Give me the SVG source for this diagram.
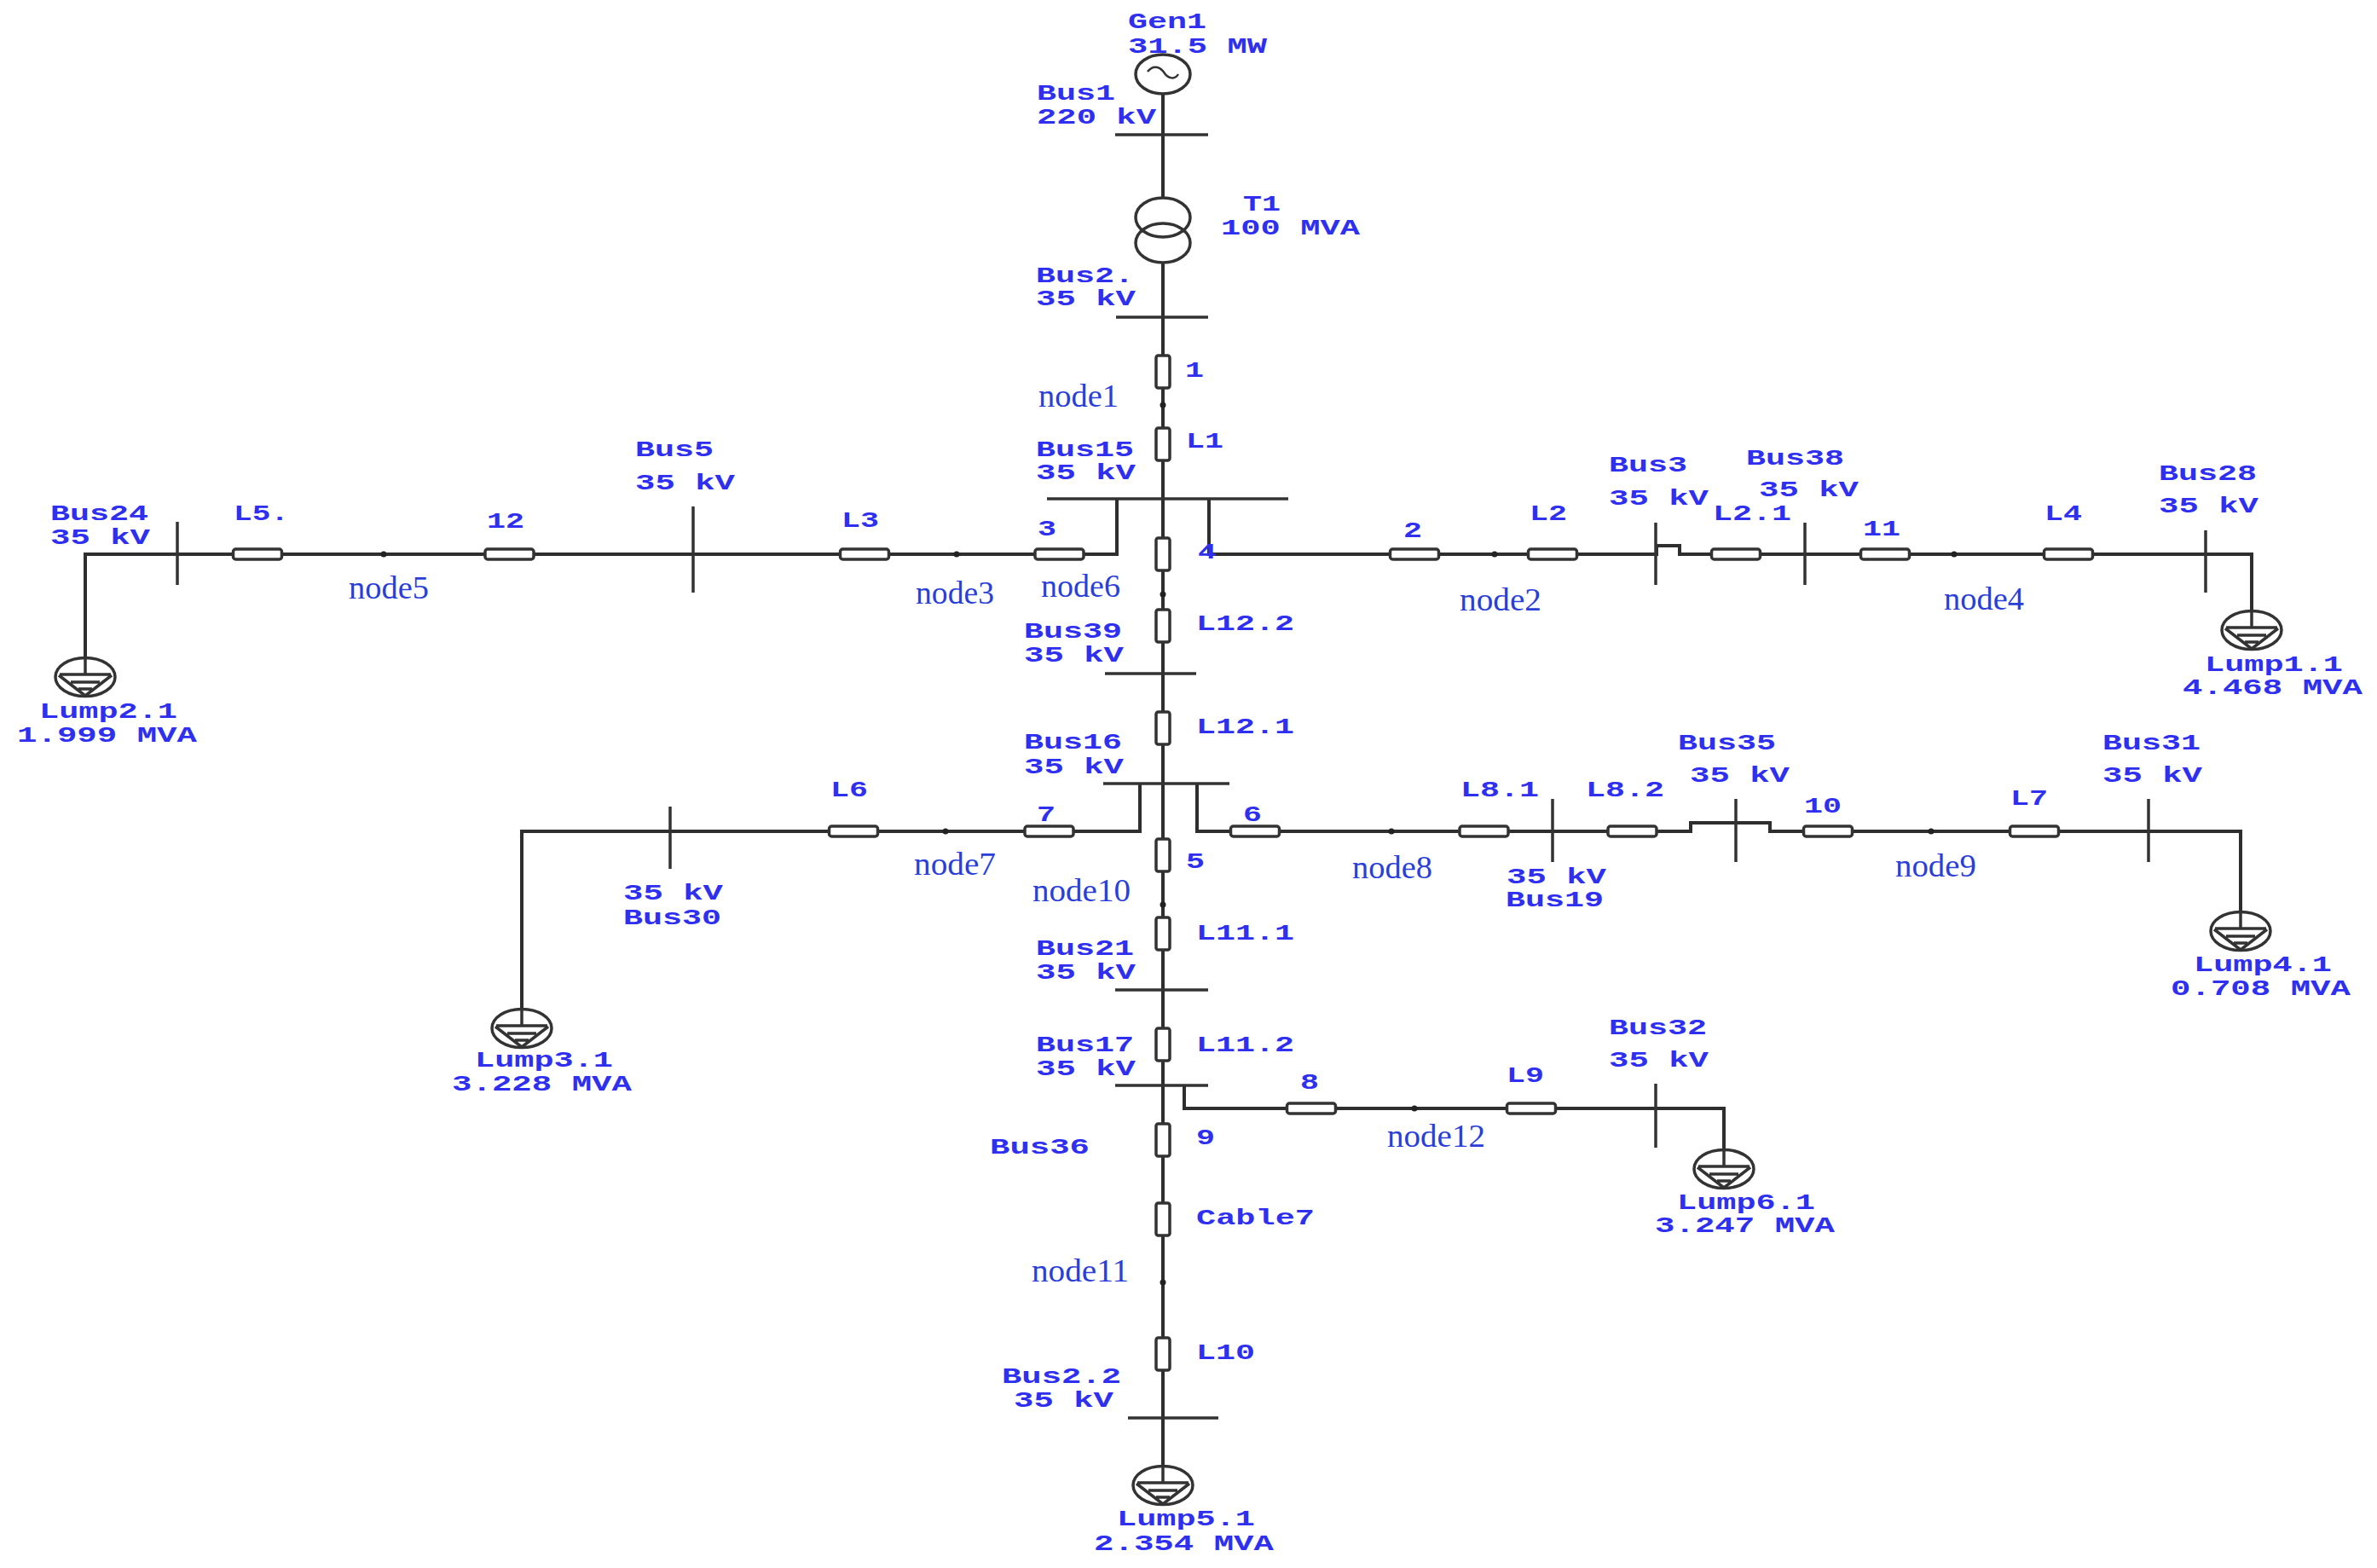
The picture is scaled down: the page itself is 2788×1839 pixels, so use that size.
<svg xmlns="http://www.w3.org/2000/svg" width="2788" height="1839" viewBox="0 0 2788 1839">
<style>
.w{fill:none;stroke:#2e2e2e;stroke-width:4}
.b{fill:none;stroke:#333;stroke-width:3.5}
.s{fill:#fff;stroke:#333;stroke-width:3.5}
.t{font-family:"Liberation Mono",monospace;font-weight:700;font-size:25px;fill:#2f2ff0}
.n{font-family:"Liberation Serif",serif;font-size:38px;fill:#2a3fd8}
.d{fill:#222}
</style>
<defs>
<g id="rv"><rect x="-8" y="-19" width="16" height="38" rx="2.5" class="s"/></g>
<g id="rh"><rect x="-28.500" y="-6" width="57" height="12" rx="3" class="s"/></g>
<g id="lump">
<ellipse cx="0" cy="0" rx="35" ry="22.500" class="s"/>
<path d="M-30-3H30M-31-2L0 22L31-2M-17 6H17M-8 14H8" fill="none" stroke="#333" stroke-width="3.500"/>
</g>
</defs>
<rect width="2788" height="1839" fill="#fff"/>
<g id="connectors" class="w">
<path d="M1364 110V232M1364 308V1737"/>
<path d="M1310 585V650H100V790"/>
<path d="M1418 585V650H1943V640H1970V650H2641V730"/>
<path d="M1337 919V975H612V1200"/>
<path d="M1404 919V975H1983V965H2076V975H2628V1088"/>
<path d="M1389 1273V1300H2022V1367"/>
</g>
<g id="Gen1"><ellipse cx="1364" cy="87" rx="32" ry="23" class="s"/><path d="M1346 84C1354 74 1362 80 1366 86C1370 92 1378 94 1382 87" fill="none" stroke="#333" stroke-width="2.500"/>
<text class="t" x="1323" y="33" textLength="92" lengthAdjust="spacingAndGlyphs">Gen1</text><text class="t" x="1323" y="62" textLength="163" lengthAdjust="spacingAndGlyphs">31.5 MW</text></g>
<g id="Bus1"><line class="b" x1="1308" y1="158" x2="1417" y2="158"/><text class="t" x="1216" y="117" textLength="92" lengthAdjust="spacingAndGlyphs">Bus1</text><text class="t" x="1216" y="145" textLength="140" lengthAdjust="spacingAndGlyphs">220 kV</text></g>
<g id="T1"><ellipse cx="1364" cy="255" rx="32" ry="23" fill="#fff" stroke="#333" stroke-width="3.500"/><ellipse cx="1364" cy="285" rx="32" ry="23" fill="none" stroke="#333" stroke-width="3.500"/>
<text class="t" x="1458" y="247" textLength="44" lengthAdjust="spacingAndGlyphs">T1</text><text class="t" x="1432" y="275" textLength="163" lengthAdjust="spacingAndGlyphs">100 MVA</text></g>
<g id="Bus2"><line class="b" x1="1309" y1="372" x2="1417" y2="372"/><text class="t" x="1215" y="331" textLength="115" lengthAdjust="spacingAndGlyphs">Bus2.</text><text class="t" x="1215" y="358" textLength="117" lengthAdjust="spacingAndGlyphs">35 kV</text></g>
<g id="R1"><use href="#rv" x="1364" y="436"/><text class="t" x="1390" y="442" textLength="22" lengthAdjust="spacingAndGlyphs">1</text></g>
<g id="node1"><circle class="d" cx="1364" cy="475" r="3.500"/><text class="n" x="1218" y="477" textLength="94" lengthAdjust="spacingAndGlyphs">node1</text></g>
<g id="L1"><use href="#rv" x="1364" y="521"/><text class="t" x="1391" y="525" textLength="44" lengthAdjust="spacingAndGlyphs">L1</text></g>
<g id="Bus15"><line class="b" x1="1228" y1="585" x2="1511" y2="585"/><text class="t" x="1215" y="535" textLength="115" lengthAdjust="spacingAndGlyphs">Bus15</text><text class="t" x="1215" y="562" textLength="117" lengthAdjust="spacingAndGlyphs">35 kV</text></g>
<g id="R3"><use href="#rh" x="1242.500" y="650"/><text class="t" x="1217" y="628" textLength="22" lengthAdjust="spacingAndGlyphs">3</text></g>
<g id="R4"><use href="#rv" x="1364" y="650"/><text class="t" x="1405" y="655" textLength="22" lengthAdjust="spacingAndGlyphs">4</text></g>
<g id="node6"><circle class="d" cx="1364" cy="697" r="3.500"/><text class="n" x="1221" y="700" textLength="93" lengthAdjust="spacingAndGlyphs">node6</text></g>
<g id="L12.2"><use href="#rv" x="1364" y="734"/><text class="t" x="1403" y="739" textLength="115" lengthAdjust="spacingAndGlyphs">L12.2</text></g>
<g id="Bus39"><line class="b" x1="1296" y1="790" x2="1403" y2="790"/><text class="t" x="1201" y="748" textLength="115" lengthAdjust="spacingAndGlyphs">Bus39</text><text class="t" x="1201" y="776" textLength="117" lengthAdjust="spacingAndGlyphs">35 kV</text></g>
<g id="L12.1"><use href="#rv" x="1364" y="854"/><text class="t" x="1403" y="860" textLength="115" lengthAdjust="spacingAndGlyphs">L12.1</text></g>
<g id="Bus16"><line class="b" x1="1294" y1="919" x2="1442" y2="919"/><text class="t" x="1201" y="878" textLength="115" lengthAdjust="spacingAndGlyphs">Bus16</text><text class="t" x="1201" y="907" textLength="117" lengthAdjust="spacingAndGlyphs">35 kV</text></g>
<g id="R5"><use href="#rv" x="1364" y="1003"/><text class="t" x="1391" y="1018" textLength="22" lengthAdjust="spacingAndGlyphs">5</text></g>
<g id="node10"><circle class="d" cx="1364" cy="1061" r="3.500"/><text class="n" x="1211" y="1057" textLength="115" lengthAdjust="spacingAndGlyphs">node10</text></g>
<g id="L11.1"><use href="#rv" x="1364" y="1095"/><text class="t" x="1403" y="1102" textLength="115" lengthAdjust="spacingAndGlyphs">L11.1</text></g>
<g id="Bus21"><line class="b" x1="1308" y1="1161" x2="1417" y2="1161"/><text class="t" x="1215" y="1120" textLength="115" lengthAdjust="spacingAndGlyphs">Bus21</text><text class="t" x="1215" y="1148" textLength="117" lengthAdjust="spacingAndGlyphs">35 kV</text></g>
<g id="L11.2"><use href="#rv" x="1364" y="1225"/><text class="t" x="1403" y="1233" textLength="115" lengthAdjust="spacingAndGlyphs">L11.2</text></g>
<g id="Bus17"><line class="b" x1="1308" y1="1273" x2="1417" y2="1273"/><text class="t" x="1215" y="1233" textLength="115" lengthAdjust="spacingAndGlyphs">Bus17</text><text class="t" x="1215" y="1261" textLength="117" lengthAdjust="spacingAndGlyphs">35 kV</text></g>
<g id="R9"><use href="#rv" x="1364" y="1337"/><text class="t" x="1403" y="1342" textLength="22" lengthAdjust="spacingAndGlyphs">9</text></g>
<g id="Bus36"><text class="t" x="1161" y="1353" textLength="117" lengthAdjust="spacingAndGlyphs">Bus36</text></g>
<g id="Cable7"><use href="#rv" x="1364" y="1430"/><text class="t" x="1403" y="1436" textLength="139" lengthAdjust="spacingAndGlyphs">Cable7</text></g>
<g id="node11"><circle class="d" cx="1364" cy="1504" r="3.500"/><text class="n" x="1210" y="1503" textLength="114" lengthAdjust="spacingAndGlyphs">node11</text></g>
<g id="L10"><use href="#rv" x="1364" y="1588"/><text class="t" x="1403" y="1594" textLength="69" lengthAdjust="spacingAndGlyphs">L10</text></g>
<g id="Bus2.2"><line class="b" x1="1323" y1="1663" x2="1429" y2="1663"/><text class="t" x="1175" y="1622" textLength="140" lengthAdjust="spacingAndGlyphs">Bus2.2</text><text class="t" x="1189" y="1650" textLength="117" lengthAdjust="spacingAndGlyphs">35 kV</text></g>
<g id="Lump5.1"><use href="#lump" x="1364" y="1742"/><line class="b" x1="1364" y1="1720" x2="1364" y2="1738"/><text class="t" x="1310" y="1789" textLength="162" lengthAdjust="spacingAndGlyphs">Lump5.1</text><text class="t" x="1283" y="1818" textLength="211" lengthAdjust="spacingAndGlyphs">2.354 MVA</text></g>
<g id="Bus24"><line class="b" x1="208" y1="612" x2="208" y2="686"/><text class="t" x="59" y="610" textLength="115" lengthAdjust="spacingAndGlyphs">Bus24</text><text class="t" x="59" y="638" textLength="117" lengthAdjust="spacingAndGlyphs">35 kV</text></g>
<g id="L5"><use href="#rh" x="302" y="650"/><text class="t" x="274" y="610" textLength="65" lengthAdjust="spacingAndGlyphs">L5.</text></g>
<g id="node5"><circle class="d" cx="450" cy="650" r="3.500"/><text class="n" x="409" y="702" textLength="94" lengthAdjust="spacingAndGlyphs">node5</text></g>
<g id="R12"><use href="#rh" x="597.500" y="650"/><text class="t" x="571" y="619" textLength="44" lengthAdjust="spacingAndGlyphs">12</text></g>
<g id="Bus5"><line class="b" x1="813" y1="594" x2="813" y2="695"/><text class="t" x="745" y="535" textLength="92" lengthAdjust="spacingAndGlyphs">Bus5</text><text class="t" x="745" y="574" textLength="117" lengthAdjust="spacingAndGlyphs">35 kV</text></g>
<g id="L3"><use href="#rh" x="1014" y="650"/><text class="t" x="987" y="618" textLength="44" lengthAdjust="spacingAndGlyphs">L3</text></g>
<g id="node3"><circle class="d" cx="1122" cy="650" r="3.500"/><text class="n" x="1074" y="708" textLength="92" lengthAdjust="spacingAndGlyphs">node3</text></g>
<g id="Lump2.1"><use href="#lump" x="100" y="794"/><line class="b" x1="100" y1="772" x2="100" y2="790"/><text class="t" x="46" y="842" textLength="162" lengthAdjust="spacingAndGlyphs">Lump2.1</text><text class="t" x="20" y="870" textLength="211" lengthAdjust="spacingAndGlyphs">1.999 MVA</text></g>
<g id="R2"><use href="#rh" x="1659" y="650"/><text class="t" x="1646" y="630" textLength="22" lengthAdjust="spacingAndGlyphs">2</text></g>
<g id="node2"><circle class="d" cx="1753" cy="650" r="3.500"/><text class="n" x="1712" y="716" textLength="96" lengthAdjust="spacingAndGlyphs">node2</text></g>
<g id="L2"><use href="#rh" x="1821" y="650"/><text class="t" x="1794" y="610" textLength="44" lengthAdjust="spacingAndGlyphs">L2</text></g>
<g id="Bus3"><line class="b" x1="1942" y1="613" x2="1942" y2="686"/><text class="t" x="1887" y="553" textLength="92" lengthAdjust="spacingAndGlyphs">Bus3</text><text class="t" x="1887" y="592" textLength="117" lengthAdjust="spacingAndGlyphs">35 kV</text></g>
<g id="L2.1"><use href="#rh" x="2036" y="650"/><text class="t" x="2009" y="610" textLength="92" lengthAdjust="spacingAndGlyphs">L2.1</text></g>
<g id="Bus38"><line class="b" x1="2117" y1="613" x2="2117" y2="686"/><text class="t" x="2048" y="545" textLength="115" lengthAdjust="spacingAndGlyphs">Bus38</text><text class="t" x="2063" y="582" textLength="117" lengthAdjust="spacingAndGlyphs">35 kV</text></g>
<g id="R11"><use href="#rh" x="2211" y="650"/><text class="t" x="2185" y="628" textLength="44" lengthAdjust="spacingAndGlyphs">11</text></g>
<g id="node4"><circle class="d" cx="2292" cy="650" r="3.500"/><text class="n" x="2280" y="715" textLength="94" lengthAdjust="spacingAndGlyphs">node4</text></g>
<g id="L4"><use href="#rh" x="2426" y="650"/><text class="t" x="2398" y="610" textLength="44" lengthAdjust="spacingAndGlyphs">L4</text></g>
<g id="Bus28"><line class="b" x1="2587" y1="622" x2="2587" y2="695"/><text class="t" x="2532" y="563" textLength="115" lengthAdjust="spacingAndGlyphs">Bus28</text><text class="t" x="2532" y="601" textLength="117" lengthAdjust="spacingAndGlyphs">35 kV</text></g>
<g id="Lump1.1"><use href="#lump" x="2641" y="739"/><line class="b" x1="2641" y1="717" x2="2641" y2="735"/><text class="t" x="2586" y="787" textLength="162" lengthAdjust="spacingAndGlyphs">Lump1.1</text><text class="t" x="2560" y="814" textLength="211" lengthAdjust="spacingAndGlyphs">4.468 MVA</text></g>
<g id="R7"><use href="#rh" x="1230.500" y="975"/><text class="t" x="1216" y="963" textLength="22" lengthAdjust="spacingAndGlyphs">7</text></g>
<g id="node7"><circle class="d" cx="1109" cy="975" r="3.500"/><text class="n" x="1072" y="1026" textLength="96" lengthAdjust="spacingAndGlyphs">node7</text></g>
<g id="L6"><use href="#rh" x="1001" y="975"/><text class="t" x="974" y="934" textLength="44" lengthAdjust="spacingAndGlyphs">L6</text></g>
<g id="Bus30"><line class="b" x1="786" y1="946" x2="786" y2="1019"/><text class="t" x="731" y="1055" textLength="117" lengthAdjust="spacingAndGlyphs">35 kV</text><text class="t" x="731" y="1084" textLength="115" lengthAdjust="spacingAndGlyphs">Bus30</text></g>
<g id="Lump3.1"><use href="#lump" x="612" y="1206"/><line class="b" x1="612" y1="1184" x2="612" y2="1202"/><text class="t" x="557" y="1251" textLength="162" lengthAdjust="spacingAndGlyphs">Lump3.1</text><text class="t" x="530" y="1279" textLength="211" lengthAdjust="spacingAndGlyphs">3.228 MVA</text></g>
<g id="R6"><use href="#rh" x="1472" y="975"/><text class="t" x="1458" y="963" textLength="22" lengthAdjust="spacingAndGlyphs">6</text></g>
<g id="node8"><circle class="d" cx="1632" cy="975" r="3.500"/><text class="n" x="1586" y="1030" textLength="94" lengthAdjust="spacingAndGlyphs">node8</text></g>
<g id="L8.1"><use href="#rh" x="1740.500" y="975"/><text class="t" x="1713" y="934" textLength="92" lengthAdjust="spacingAndGlyphs">L8.1</text></g>
<g id="Bus19"><line class="b" x1="1821" y1="937" x2="1821" y2="1011"/><text class="t" x="1767" y="1036" textLength="117" lengthAdjust="spacingAndGlyphs">35 kV</text><text class="t" x="1766" y="1063" textLength="115" lengthAdjust="spacingAndGlyphs">Bus19</text></g>
<g id="L8.2"><use href="#rh" x="1914.500" y="975"/><text class="t" x="1860" y="934" textLength="92" lengthAdjust="spacingAndGlyphs">L8.2</text></g>
<g id="Bus35"><line class="b" x1="2036" y1="937" x2="2036" y2="1011"/><text class="t" x="1968" y="879" textLength="115" lengthAdjust="spacingAndGlyphs">Bus35</text><text class="t" x="1982" y="917" textLength="117" lengthAdjust="spacingAndGlyphs">35 kV</text></g>
<g id="R10"><use href="#rh" x="2144" y="975"/><text class="t" x="2116" y="953" textLength="44" lengthAdjust="spacingAndGlyphs">10</text></g>
<g id="node9"><circle class="d" cx="2265" cy="975" r="3.500"/><text class="n" x="2223" y="1028" textLength="95" lengthAdjust="spacingAndGlyphs">node9</text></g>
<g id="L7"><use href="#rh" x="2386" y="975"/><text class="t" x="2358" y="944" textLength="44" lengthAdjust="spacingAndGlyphs">L7</text></g>
<g id="Bus31"><line class="b" x1="2520" y1="937" x2="2520" y2="1011"/><text class="t" x="2466" y="879" textLength="115" lengthAdjust="spacingAndGlyphs">Bus31</text><text class="t" x="2466" y="917" textLength="117" lengthAdjust="spacingAndGlyphs">35 kV</text></g>
<g id="Lump4.1"><use href="#lump" x="2628" y="1092"/><line class="b" x1="2628" y1="1070" x2="2628" y2="1088"/><text class="t" x="2573" y="1139" textLength="162" lengthAdjust="spacingAndGlyphs">Lump4.1</text><text class="t" x="2546" y="1167" textLength="211" lengthAdjust="spacingAndGlyphs">0.708 MVA</text></g>
<g id="R8"><use href="#rh" x="1538" y="1300"/><text class="t" x="1525" y="1277" textLength="22" lengthAdjust="spacingAndGlyphs">8</text></g>
<g id="node12"><circle class="d" cx="1659" cy="1300" r="3.500"/><text class="n" x="1627" y="1345" textLength="115" lengthAdjust="spacingAndGlyphs">node12</text></g>
<g id="L9"><use href="#rh" x="1796" y="1300"/><text class="t" x="1767" y="1269" textLength="44" lengthAdjust="spacingAndGlyphs">L9</text></g>
<g id="Bus32"><line class="b" x1="1942" y1="1271" x2="1942" y2="1346"/><text class="t" x="1887" y="1213" textLength="115" lengthAdjust="spacingAndGlyphs">Bus32</text><text class="t" x="1887" y="1251" textLength="117" lengthAdjust="spacingAndGlyphs">35 kV</text></g>
<g id="Lump6.1"><use href="#lump" x="2022" y="1371"/><line class="b" x1="2022" y1="1349" x2="2022" y2="1367"/><text class="t" x="1967" y="1418" textLength="162" lengthAdjust="spacingAndGlyphs">Lump6.1</text><text class="t" x="1941" y="1445" textLength="211" lengthAdjust="spacingAndGlyphs">3.247 MVA</text></g>
</svg>
